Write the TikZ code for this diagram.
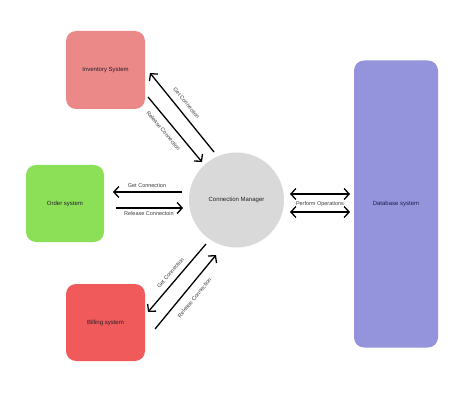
\documentclass[tikz,border=0pt]{standalone}
\usepackage{fontspec}
\setmainfont{Liberation Sans}
\usetikzlibrary{arrows.meta}
\definecolor{invcol}{RGB}{235,137,137}
\definecolor{ordcol}{RGB}{140,224,88}
\definecolor{bilcol}{RGB}{240,90,90}
\definecolor{dbcol}{RGB}{148,148,220}
\definecolor{cmcol}{RGB}{217,217,217}
\definecolor{txtcol}{RGB}{40,30,40}
\definecolor{lblcol}{RGB}{60,60,60}
\tikzset{
  sysbox/.style={rectangle, rounded corners=10pt, draw=none, inner sep=0pt,
    font=\fontsize{6}{7}\selectfont, text=txtcol},
  conn/.style={line width=1.3pt, -{Straight Barb[length=5pt,width=11pt]}},
  bconn/.style={line width=1.3pt, {Straight Barb[length=5pt,width=11pt]}-{Straight Barb[length=5pt,width=11pt]}},
  lbl/.style={font=\fontsize{5.5}{6}\selectfont, text=lblcol, inner sep=0pt}
}
\begin{document}
\begin{tikzpicture}[x=1pt,y=-1pt]
\useasboundingbox (0,0) rectangle (474,401);
\fill[white] (0,0) rectangle (474,401);
% nodes
\node[sysbox, fill=invcol, minimum width=79pt, minimum height=78pt] (inv) at (105.5,70) {Inventory System};
\node[sysbox, fill=ordcol, minimum width=78pt, minimum height=77pt] (ord) at (65,203.5) {Order system};
\node[sysbox, fill=bilcol, minimum width=79pt, minimum height=77pt] (bil) at (105.5,322.5) {Billing system};
\node[circle, fill=cmcol, minimum size=95pt, inner sep=0pt, font=\fontsize{6}{7}\selectfont, text=txtcol] (cm) at (236.5,200) {Connection Manager};
\node[sysbox, fill=dbcol, minimum width=84pt, minimum height=287pt, text={rgb,255:red,30;green,30;blue,80}] (db) at (396,204) {Database system};
% endpoints
\coordinate (i1s) at (214,152); \coordinate (i1e) at (150,73);
\coordinate (i2s) at (148,97);  \coordinate (i2e) at (202,162);
\coordinate (o1s) at (182,192); \coordinate (o1e) at (113,192);
\coordinate (o2s) at (116,208); \coordinate (o2e) at (183,208);
\coordinate (b1s) at (206,244); \coordinate (b1e) at (148,312);
\coordinate (b2s) at (155,329); \coordinate (b2e) at (216,255);
\coordinate (d1s) at (290,194); \coordinate (d1e) at (350,194);
\coordinate (d2s) at (290,212); \coordinate (d2e) at (350,212);
% connectors
\draw[conn] (i1s) -- (i1e);
\draw[conn] (i2s) -- (i2e);
\draw[conn] (o1s) -- (o1e);
\draw[conn] (o2s) -- (o2e);
\draw[conn] (b1s) -- (b1e);
\draw[conn] (b2s) -- (b2e);
\draw[bconn] (d1s) -- (d1e);
\draw[bconn] (d2s) -- (d2e);
% labels
\node[lbl, rotate=-51] (li1) at (186.5,103) {Get Connection};
\node[lbl, rotate=-50] (li2) at (163.5,131) {Release Connection};
\node[lbl] (lo1) at (147,186) {Get Connection};
\node[lbl] (lo2) at (149,214) {Release Connectoin};
\node[lbl, rotate=49.5] (lb1) at (170.5,273) {Get Connection};
\node[lbl, rotate=50.5] (lb2) at (194.5,298) {Release Connection};
\node[lbl] (ld) at (320,204) {Perform Operations};
\end{tikzpicture}
\end{document}
